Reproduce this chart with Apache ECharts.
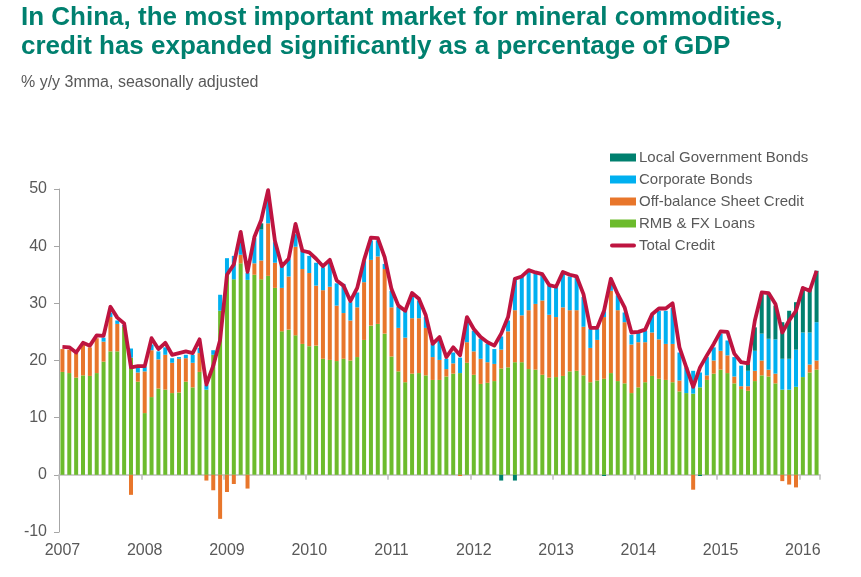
<!DOCTYPE html>
<html>
<head>
<meta charset="utf-8">
<script src="https://cdn.jsdelivr.net/npm/echarts@6/dist/echarts.min.js"></script>
<style>
html, body { margin: 0; padding: 0; background: #fff; }
#chart { width: 861px; height: 577px; }
</style>
</head>
<body>
<div id="chart"></div>
<script>
var years = ['2007', '2008', '2009', '2010', '2011', '2012', '2013', '2014', '2015', '2016'];
var monthCount = 111; // Jan 2007 - Mar 2016

// RMB & FX loans
var loans = [18.0, 17.8, 17.0, 17.4, 17.3, 17.8, 19.8, 21.6, 21.6, 25.9, 20.5, 16.3,
	10.8, 13.6, 15.1, 14.9, 14.3, 14.4, 16.3, 15.3, 18.0, 14.9, 21.0, 28.7,
	35.0, 34.2, 37.0, 34.1, 35.0, 34.2, 34.8, 32.7, 25.1, 25.4, 24.4, 22.9,
	22.5, 22.6, 20.3, 20.1, 19.9, 20.3, 20.0, 20.6, 23.6, 26.1, 26.4, 24.7,
	20.7, 18.1, 16.2, 17.7, 17.8, 17.4, 16.6, 16.6, 17.2, 17.7, 17.8, 19.6,
	17.5, 15.9, 16.1, 16.4, 18.6, 18.8, 19.7, 19.7, 18.5, 18.4, 17.5, 17.0,
	17.1, 17.3, 18.1, 18.2, 17.4, 16.2, 16.5, 16.8, 17.8, 16.4, 16.0, 14.3,
	15.3, 16.2, 17.3, 16.8, 16.6, 16.2, 14.6, 14.3, 14.2, 15.3, 16.6, 17.7,
	18.4, 17.8, 16.0, 15.0, 14.7, 16.4, 17.4, 17.2, 16.0, 14.9, 14.9, 15.4,
	17.1, 17.9, 18.4];

// Off-balance sheet credit
var offBalance = [4.0, 4.1, 4.3, 5.5, 5.0, 6.1, 3.5, 6.0, 4.8, 0, -3.5, 1.6,
	7.3, 8.2, 5.1, 6.1, 5.3, 5.9, 4.1, 4.3, 3.3, -1.0, -2.7, -7.7,
	-3.0, -1.6, 1.5, -2.4, 2.0, 3.3, 9.2, 4.4, 7.6, 9.3, 15.5, 13.1,
	12.8, 10.5, 12.0, 12.8, 9.7, 8.0, 7.0, 8.7, 10.1, 11.5, 11.8, 11.3,
	8.6, 7.6, 7.8, 9.7, 9.6, 8.3, 4.0, 3.5, 1.3, 1.8, -0.2, 3.6,
	4.1, 4.4, 3.6, 3.0, 3.3, 6.3, 9.1, 8.2, 10.3, 11.5, 13.0, 11.0,
	10.5, 12.0, 10.7, 10.6, 8.5, 6.0, 7.1, 10.8, 14.4, 12.4, 10.7, 8.5,
	7.9, 7.0, 7.6, 6.9, 6.3, 6.7, 1.9, 0, -2.6, 0, 0.8, 2.3,
	3.3, 3.1, 1.2, 0.5, 0.8, 1.8, 2.6, 1.2, 1.7, -1.1, -1.7, -2.2,
	0, 1.4, 1.6];

// Corporate bonds
var corpBonds = [0, 0, 0, 0, 0, 0, 0.7, 0.8, 0.6, 0.3, 1.6, 0.9,
	0.8, 1.0, 1.4, 1.3, 0.8, 0.3, 0.6, 1.4, 0.9, 0.8, 0.8, 2.8,
	2.9, 4.1, 2.1, 1.2, 4.4, 5.4, 3.9, 3.6, 3.9, 3.0, 2.2, 3.2,
	3.0, 4.0, 4.0, 4.3, 3.9, 5.1, 3.2, 2.6, 3.8, 3.4, 2.8, 0.9,
	2.9, 3.7, 4.7, 3.7, 3.1, 1.9, 2.3, 3.5, 1.8, 1.9, 2.7, 3.8,
	3.6, 3.5, 3.2, 2.6, 2.3, 1.9, 5.6, 6.8, 6.9, 5.5, 4.6, 5.1,
	5.2, 5.9, 5.9, 5.9, 5.2, 3.3, 1.9, 1.0, 1.2, 2.6, 1.7, 1.7,
	1.7, 2.0, 3.2, 5.0, 5.8, 6.3, 4.9, 4.5, 4.0, 2.6, 3.2, 2.3,
	3.0, 2.6, 3.4, 3.6, 2.7, 3.5, 4.7, 5.4, 6.0, 5.4, 5.4, 6.5,
	7.8, 5.6, 6.7];

// Local government bonds
var localBonds = [0, 0, 0, 0, 0, 0, 0, 0, 0, 0, 0, 0,
	0, 0, 0, 0, 0, 0, 0, 0, 0, 0, 0, 0,
	0, 0, 0, 0, 0, 1.1, 0, 0, 0, 0, 0, 0,
	0, 0, 0, 0, 0, 0, 0, 0, 0, 0, 0, 0,
	0, 0, 0, 0, 0, 0, 0, 0, 0, 0, 0, 0,
	0, 0, 0, 0, -1.0, 0, -1.0, 0, 0, 0, 0, 0,
	0, 0, 0, 0, 0, 0, 0, -0.2, 0, 0, 0, 0,
	0, 0, 0, 0, 0, 0, 0, 0, 0, -0.2, 0, 0,
	0, 0, 0, 0, 1.2, 4.1, 6.9, 7.8, 5.9, 6.4, 8.4, 8.3,
	7.6, 7.6, 9.0];

// Total credit
var totalCredit = [22.4, 22.3, 21.4, 23.1, 22.6, 24.4, 24.3, 29.4, 27.5, 26.5, 18.8, 19.0,
	19.0, 23.9, 22.0, 23.1, 21.0, 21.3, 21.6, 21.3, 23.7, 15.8, 19.1, 23.6,
	35.0, 36.8, 42.5, 35.5, 41.6, 44.6, 49.8, 40.9, 36.5, 37.8, 43.9, 39.2,
	38.9, 37.8, 36.5, 37.6, 34.0, 33.1, 30.4, 32.7, 37.6, 41.5, 41.4, 38.1,
	32.5, 29.6, 28.7, 31.8, 30.8, 27.9, 22.9, 24.1, 20.6, 22.3, 20.9, 27.6,
	25.5, 24.1, 23.2, 22.6, 24.7, 27.6, 34.3, 34.7, 35.8, 35.4, 35.1, 33.2,
	32.9, 35.5, 35.0, 34.7, 31.6, 25.7, 25.7, 28.7, 34.3, 31.6, 29.3, 24.9,
	25.0, 25.4, 28.1, 29.1, 29.1, 30.0, 22.3, 18.8, 15.4, 18.8, 20.9, 22.9,
	25.1, 25.0, 21.2, 19.7, 19.5, 27.0, 31.9, 31.8, 29.9, 24.9, 27.0, 28.7,
	32.7, 32.2, 35.7];

var months = [];
for (var i = 0; i < monthCount; i++) {
	var y = years[Math.floor(i / 12)];
	var m = (i % 12) + 1;
	months.push(y + '-' + (m < 10 ? '0' + m : m));
}

var font = 'Liberation Sans, Arial, sans-serif';
var grey = '#595959';
var lineIcon = 'path://M2,0 L24,0 A2,2 0 0 1 24,4 L2,4 A2,2 0 0 1 2,0 Z';

var myChart = echarts.init(document.getElementById('chart'));

var option = {
	backgroundColor: '#ffffff',
	animation: false,
	title: [{
		text: 'In China, the most important market for mineral commodities,\ncredit has expanded significantly as a percentage of GDP',
		left: 16,
		top: -2,
		textStyle: {
			color: '#00806F',
			fontFamily: font,
			fontWeight: 'bold',
			fontSize: 26,
			lineHeight: 29.5
		}
	}, {
		text: '% y/y 3mma, seasonally adjusted',
		left: 16,
		top: 70,
		textStyle: {
			color: grey,
			fontFamily: font,
			fontWeight: 'normal',
			fontSize: 16
		}
	}],
	legend: {
		orient: 'vertical',
		left: 605,
		top: 145,
		itemWidth: 26,
		itemHeight: 8,
		itemGap: 7,
		textStyle: { color: grey, fontFamily: font, fontSize: 15, padding: [0, 0, 0, -2] },
		data: [
			{ name: 'Local Government Bonds', icon: 'rect' },
			{ name: 'Corporate Bonds', icon: 'rect' },
			{ name: 'Off-balance Sheet Credit', icon: 'rect' },
			{ name: 'RMB & FX Loans', icon: 'rect' },
			{ name: 'Total Credit', icon: lineIcon }
		]
	},
	grid: {
		left: 59,
		right: 41,
		top: 189,
		bottom: 45,
		containLabel: false,
		outerBoundsMode: 'none'
	},
	xAxis: {
		type: 'category',
		data: months,
		boundaryGap: true,
		axisLine: { onZero: true, lineStyle: { color: '#BFBFBF', width: 1.5 } },
		axisTick: {
			show: true,
			length: 5,
			interval: function (index) { return index % 12 === 0; },
			lineStyle: { color: '#BFBFBF', width: 1.5 }
		},
		axisLabel: {
			interval: function (index) { return index % 12 === 0; },
			formatter: function (v) { return v.slice(0, 4); },
			margin: 11,
			color: grey,
			fontFamily: font,
			fontSize: 16
		},
		splitLine: { show: false }
	},
	yAxis: {
		type: 'value',
		min: -10,
		max: 50,
		interval: 10,
		axisLine: { show: true, lineStyle: { color: '#A6A6A6' } },
		axisTick: { show: true, length: 5, lineStyle: { color: '#A6A6A6' } },
		axisLabel: { color: grey, fontFamily: font, fontSize: 16, margin: 12 },
		splitLine: { show: false }
	},
	series: [{
		name: 'RMB & FX Loans',
		type: 'bar',
		stack: 'credit',
		barWidth: 4,
		itemStyle: { color: '#6CBB2C' },
		data: loans
	}, {
		name: 'Off-balance Sheet Credit',
		type: 'bar',
		stack: 'credit',
		barWidth: 4,
		itemStyle: { color: '#E8762B' },
		data: offBalance
	}, {
		name: 'Corporate Bonds',
		type: 'bar',
		stack: 'credit',
		barWidth: 4,
		itemStyle: { color: '#00B0F0' },
		data: corpBonds
	}, {
		name: 'Local Government Bonds',
		type: 'bar',
		stack: 'credit',
		barWidth: 4,
		itemStyle: { color: '#00806F' },
		data: localBonds
	}, {
		name: 'Total Credit',
		type: 'line',
		symbol: 'none',
		itemStyle: { color: '#BE1440' },
		lineStyle: { color: '#BE1440', width: 3.8, join: 'round' },
		z: 5,
		data: totalCredit
	}]
};

myChart.setOption(option);
</script>
</body>
</html>
